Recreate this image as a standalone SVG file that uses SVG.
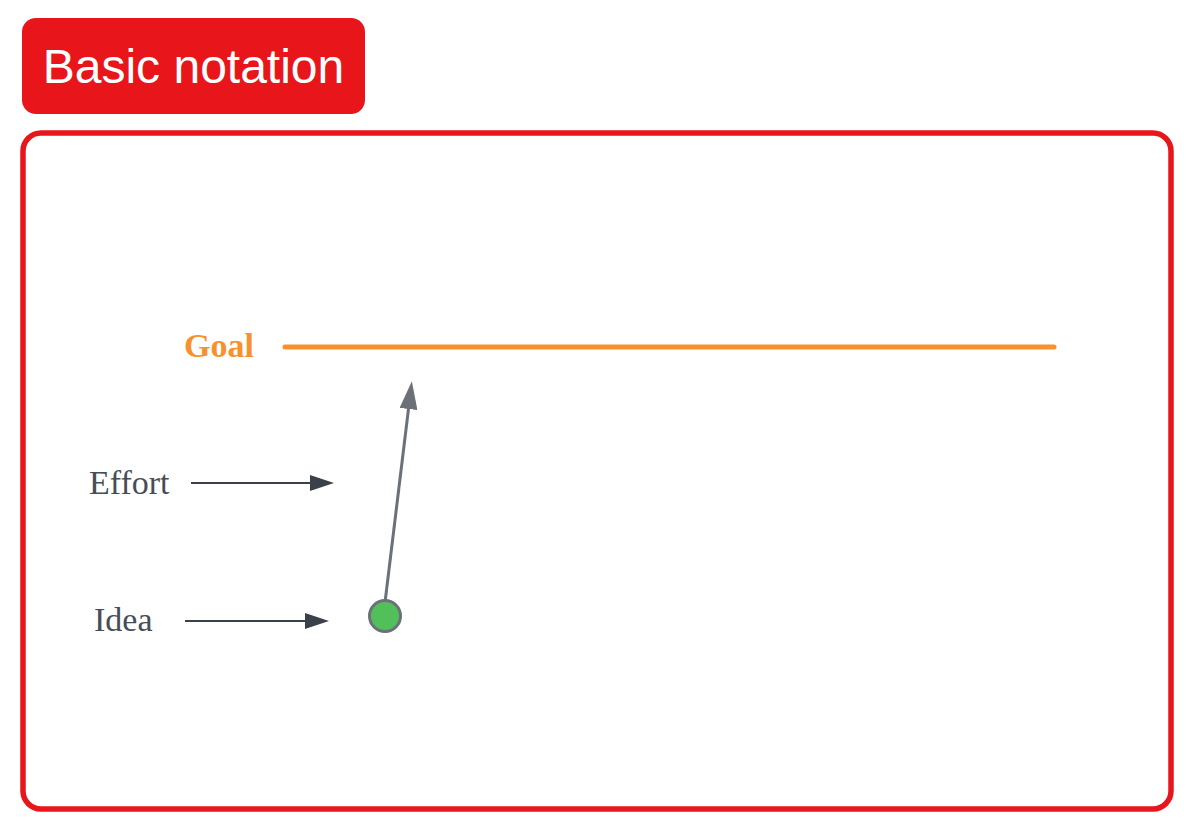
<svg xmlns="http://www.w3.org/2000/svg" width="1198" height="834" viewBox="0 0 1198 834">
<style>
.lbl{font-family:"Liberation Serif","Times New Roman",serif;font-size:34px;fill:#474d57}
.dark{stroke:#3b4149;stroke-width:2;fill:none}
</style>
<defs>
<marker id="ah" markerUnits="userSpaceOnUse" markerWidth="24" markerHeight="16" refX="1" refY="8" orient="auto"><path d="M0,0 L24,8 L0,16 z" fill="#3b4149"/></marker>
<marker id="ahg" markerUnits="userSpaceOnUse" markerWidth="28" markerHeight="18" refX="1" refY="9" orient="auto"><path d="M0,0 L28,9 L0,18 z" fill="#6b7079"/></marker>
</defs>
<rect width="1198" height="834" fill="#ffffff"/>
<g id="header">
<rect x="22" y="18" width="343" height="96" rx="14" fill="#e8161a"/>
<text x="193.5" y="83" text-anchor="middle" font-family="Liberation Sans, Arial, sans-serif" font-size="48" fill="#ffffff">Basic notation</text>
</g>
<g id="frame">
<rect x="23" y="133" width="1148" height="676" rx="18" fill="none" stroke="#e8161a" stroke-width="5.5"/>
</g>
<g id="goal">
<text x="184" y="357" font-family="Liberation Serif, Times New Roman, serif" font-weight="bold" font-size="34" fill="#f7912f">Goal</text>
<line x1="285" y1="347" x2="1054" y2="347" stroke="#f7912f" stroke-width="5" stroke-linecap="round"/>
</g>
<g id="effort"><text class="lbl" x="89" y="494">Effort</text></g>
<g id="idea-label"><text class="lbl" x="94" y="631">Idea</text></g>
<g id="idea">
<circle cx="385" cy="616" r="15.5" fill="#52c05a" stroke="#6b7079" stroke-width="3"/>
</g>
<g id="connectors">
<line class="dark" x1="191" y1="483" x2="311" y2="483" marker-end="url(#ah)"/>
<line class="dark" x1="185" y1="621" x2="306" y2="621" marker-end="url(#ah)"/>
<line x1="385.3" y1="600" x2="408.6" y2="408" stroke="#6b7079" stroke-width="3" marker-end="url(#ahg)"/>
</g>
</svg>
